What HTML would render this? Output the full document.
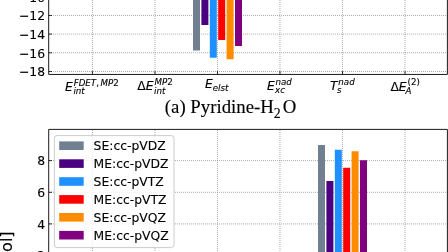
<!DOCTYPE html><html><head><meta charset="utf-8"><title>plot</title><style>html,body{margin:0;padding:0;background:#fff;overflow:hidden}svg{display:block}text{font-family:"DejaVu Sans","Liberation Sans",sans-serif;fill:#000;stroke:#000;stroke-width:0.12px}.it{font-style:oblique}.ser{font-family:"Liberation Serif",serif}</style></head><body>
<svg width="448" height="252" viewBox="0 0 448 252">
<rect width="448" height="252" fill="#fff"/>
<line x1="49" x2="447.4" y1="15.45" y2="15.45" stroke="#8c8c8c" stroke-opacity="0.72" stroke-width="1" stroke-dasharray="1 1" fill="none"/>
<line x1="49" x2="447.4" y1="34.1" y2="34.1" stroke="#8c8c8c" stroke-opacity="0.72" stroke-width="1" stroke-dasharray="1 1" fill="none"/>
<line x1="49" x2="447.4" y1="52.75" y2="52.75" stroke="#8c8c8c" stroke-opacity="0.72" stroke-width="1" stroke-dasharray="1 1" fill="none"/>
<line x1="49" x2="447.4" y1="71.5" y2="71.5" stroke="#8c8c8c" stroke-opacity="0.72" stroke-width="1" stroke-dasharray="1 1" fill="none"/>
<line x1="92.45" x2="92.45" y1="0" y2="74.45" stroke="#8c8c8c" stroke-opacity="0.72" stroke-width="1" stroke-dasharray="1 1" fill="none"/>
<line x1="154.96" x2="154.96" y1="0" y2="74.45" stroke="#8c8c8c" stroke-opacity="0.72" stroke-width="1" stroke-dasharray="1 1" fill="none"/>
<line x1="217.47" x2="217.47" y1="0" y2="74.45" stroke="#8c8c8c" stroke-opacity="0.72" stroke-width="1" stroke-dasharray="1 1" fill="none"/>
<line x1="279.98" x2="279.98" y1="0" y2="74.45" stroke="#8c8c8c" stroke-opacity="0.72" stroke-width="1" stroke-dasharray="1 1" fill="none"/>
<line x1="342.49" x2="342.49" y1="0" y2="74.45" stroke="#8c8c8c" stroke-opacity="0.72" stroke-width="1" stroke-dasharray="1 1" fill="none"/>
<line x1="405.0" x2="405.0" y1="0" y2="74.45" stroke="#8c8c8c" stroke-opacity="0.72" stroke-width="1" stroke-dasharray="1 1" fill="none"/>
<line x1="49" x2="447.4" y1="160.6" y2="160.6" stroke="#8c8c8c" stroke-opacity="0.72" stroke-width="1" stroke-dasharray="1 1" fill="none"/>
<line x1="49" x2="447.4" y1="192.3" y2="192.3" stroke="#8c8c8c" stroke-opacity="0.72" stroke-width="1" stroke-dasharray="1 1" fill="none"/>
<line x1="49" x2="447.4" y1="223.9" y2="223.9" stroke="#8c8c8c" stroke-opacity="0.72" stroke-width="1" stroke-dasharray="1 1" fill="none"/>
<line x1="92.45" x2="92.45" y1="130" y2="253" stroke="#8c8c8c" stroke-opacity="0.72" stroke-width="1" stroke-dasharray="1 1" fill="none"/>
<line x1="154.96" x2="154.96" y1="130" y2="253" stroke="#8c8c8c" stroke-opacity="0.72" stroke-width="1" stroke-dasharray="1 1" fill="none"/>
<line x1="217.47" x2="217.47" y1="130" y2="253" stroke="#8c8c8c" stroke-opacity="0.72" stroke-width="1" stroke-dasharray="1 1" fill="none"/>
<line x1="279.98" x2="279.98" y1="130" y2="253" stroke="#8c8c8c" stroke-opacity="0.72" stroke-width="1" stroke-dasharray="1 1" fill="none"/>
<line x1="342.49" x2="342.49" y1="130" y2="253" stroke="#8c8c8c" stroke-opacity="0.72" stroke-width="1" stroke-dasharray="1 1" fill="none"/>
<line x1="405.0" x2="405.0" y1="130" y2="253" stroke="#8c8c8c" stroke-opacity="0.72" stroke-width="1" stroke-dasharray="1 1" fill="none"/>
<rect x="193.00" y="-2" width="7.0" height="52.50" fill="#708090"/>
<rect x="201.40" y="-2" width="7.0" height="27.00" fill="#4B0082"/>
<rect x="209.80" y="-2" width="7.0" height="59.75" fill="#1E90FF"/>
<rect x="218.20" y="-2" width="7.0" height="42.00" fill="#FF0000"/>
<rect x="226.60" y="-2" width="7.0" height="61.25" fill="#FF8C00"/>
<rect x="235.00" y="-2" width="7.0" height="48.00" fill="#800080"/>
<rect x="318.00" y="145.00" width="7.0" height="109.00" fill="#708090"/>
<rect x="326.40" y="181.00" width="7.0" height="73.00" fill="#4B0082"/>
<rect x="334.80" y="149.75" width="7.0" height="104.25" fill="#1E90FF"/>
<rect x="343.20" y="167.75" width="7.0" height="86.25" fill="#FF0000"/>
<rect x="351.60" y="151.25" width="7.0" height="102.75" fill="#FF8C00"/>
<rect x="360.00" y="160.25" width="7.0" height="93.75" fill="#800080"/>
<line x1="48.7" x2="52.0" y1="15.45" y2="15.45" stroke="#000" stroke-width="0.8"/>
<line x1="48.7" x2="52.0" y1="34.1" y2="34.1" stroke="#000" stroke-width="0.8"/>
<line x1="48.7" x2="52.0" y1="52.75" y2="52.75" stroke="#000" stroke-width="0.8"/>
<line x1="48.7" x2="52.0" y1="71.5" y2="71.5" stroke="#000" stroke-width="0.8"/>
<line x1="92.45" x2="92.45" y1="74.45" y2="71.15" stroke="#000" stroke-width="0.8"/>
<line x1="154.96" x2="154.96" y1="74.45" y2="71.15" stroke="#000" stroke-width="0.8"/>
<line x1="217.47" x2="217.47" y1="74.45" y2="71.15" stroke="#000" stroke-width="0.8"/>
<line x1="279.98" x2="279.98" y1="74.45" y2="71.15" stroke="#000" stroke-width="0.8"/>
<line x1="342.49" x2="342.49" y1="74.45" y2="71.15" stroke="#000" stroke-width="0.8"/>
<line x1="405.0" x2="405.0" y1="74.45" y2="71.15" stroke="#000" stroke-width="0.8"/>
<line x1="48.7" x2="52.0" y1="160.6" y2="160.6" stroke="#000" stroke-width="0.8"/>
<line x1="48.7" x2="52.0" y1="192.3" y2="192.3" stroke="#000" stroke-width="0.8"/>
<line x1="48.7" x2="52.0" y1="223.9" y2="223.9" stroke="#000" stroke-width="0.8"/>
<path d="M48.7 -2 V74.45 H447.4 V-2" stroke="#000" stroke-width="0.9" fill="none"/>
<path d="M48.7 254 V129.4 H447.4 V254" stroke="#000" stroke-width="0.9" fill="none"/>
<text x="45.1" y="20.25" font-size="12.35" text-anchor="end">−12</text>
<text x="45.1" y="38.90" font-size="12.35" text-anchor="end">−14</text>
<text x="45.1" y="57.55" font-size="12.35" text-anchor="end">−16</text>
<text x="45.1" y="76.30" font-size="12.35" text-anchor="end">−18</text>
<text x="45.1" y="1.90" font-size="12.35" text-anchor="end">−10</text>
<text x="45.1" y="165.40" font-size="12.35" text-anchor="end">8</text>
<text x="45.1" y="197.10" font-size="12.35" text-anchor="end">6</text>
<text x="45.1" y="228.70" font-size="12.35" text-anchor="end">4</text>
<text x="45.1" y="260.30" font-size="12.35" text-anchor="end">2</text>
<text x="65.1" y="91.0" font-size="12.35" class="it">E</text>
<text x="73.7" y="86.1" font-size="8.7"><tspan class="it">FDET</tspan>,<tspan class="it" dx="1.6">MP</tspan>2</text>
<text x="73.4" y="94.2" font-size="8.7" class="it">int</text>
<text x="137.3" y="89.8" font-size="12.35">Δ<tspan class="it">E</tspan></text>
<text x="154.4" y="85.4" font-size="8.7"><tspan class="it">MP</tspan>2</text>
<text x="154.1" y="93.7" font-size="8.7" class="it">int</text>
<text x="204.9" y="87.6" font-size="12.35" class="it">E</text>
<text x="212.7" y="91.0" font-size="8.7" class="it">elst</text>
<text x="267.0" y="90.4" font-size="12.35" class="it">E</text>
<text x="275.5" y="85.3" font-size="8.7" class="it">nad</text>
<text x="275.1" y="93.2" font-size="8.7" class="it">xc</text>
<text x="329.9" y="90.0" font-size="12.35" class="it">T</text>
<text x="338.3" y="85.3" font-size="8.7" class="it">nad</text>
<text x="336.9" y="93.2" font-size="8.7" class="it">s</text>
<text x="390.4" y="90.7" font-size="12.35">Δ<tspan class="it">E</tspan></text>
<text x="407.6" y="84.9" font-size="8.7">(2)</text>
<text x="405.6" y="94.3" font-size="8.7" class="it">A</text>
<text x="164.8" y="112.6" font-size="18.8" class="ser">(a) Pyridine-H<tspan font-size="13.8" dy="5.1">2</tspan><tspan dy="-5.1" dx="2.1">O</tspan></text>
<text transform="translate(11.6,231.4) rotate(-90)" font-size="16" text-anchor="end">E [kcal/mol]</text>
<rect x="54.4" y="135.6" width="119.6" height="112" rx="2.6" ry="2.6" fill="#fff" fill-opacity="0.8" stroke="#cccccc" stroke-width="1"/>
<rect x="59.2" y="141.40" width="24.5" height="8.6" fill="#708090"/>
<text x="93.6" y="150.10" font-size="12.35">SE:cc-pVDZ</text>
<rect x="59.2" y="159.30" width="24.5" height="8.6" fill="#4B0082"/>
<text x="93.6" y="168.00" font-size="12.35">ME:cc-pVDZ</text>
<rect x="59.2" y="177.20" width="24.5" height="8.6" fill="#1E90FF"/>
<text x="93.6" y="185.90" font-size="12.35">SE:cc-pVTZ</text>
<rect x="59.2" y="195.10" width="24.5" height="8.6" fill="#FF0000"/>
<text x="93.6" y="203.80" font-size="12.35">ME:cc-pVTZ</text>
<rect x="59.2" y="213.00" width="24.5" height="8.6" fill="#FF8C00"/>
<text x="93.6" y="221.70" font-size="12.35">SE:cc-pVQZ</text>
<rect x="59.2" y="230.90" width="24.5" height="8.6" fill="#800080"/>
<text x="93.6" y="239.60" font-size="12.35">ME:cc-pVQZ</text>
</svg></body></html>
